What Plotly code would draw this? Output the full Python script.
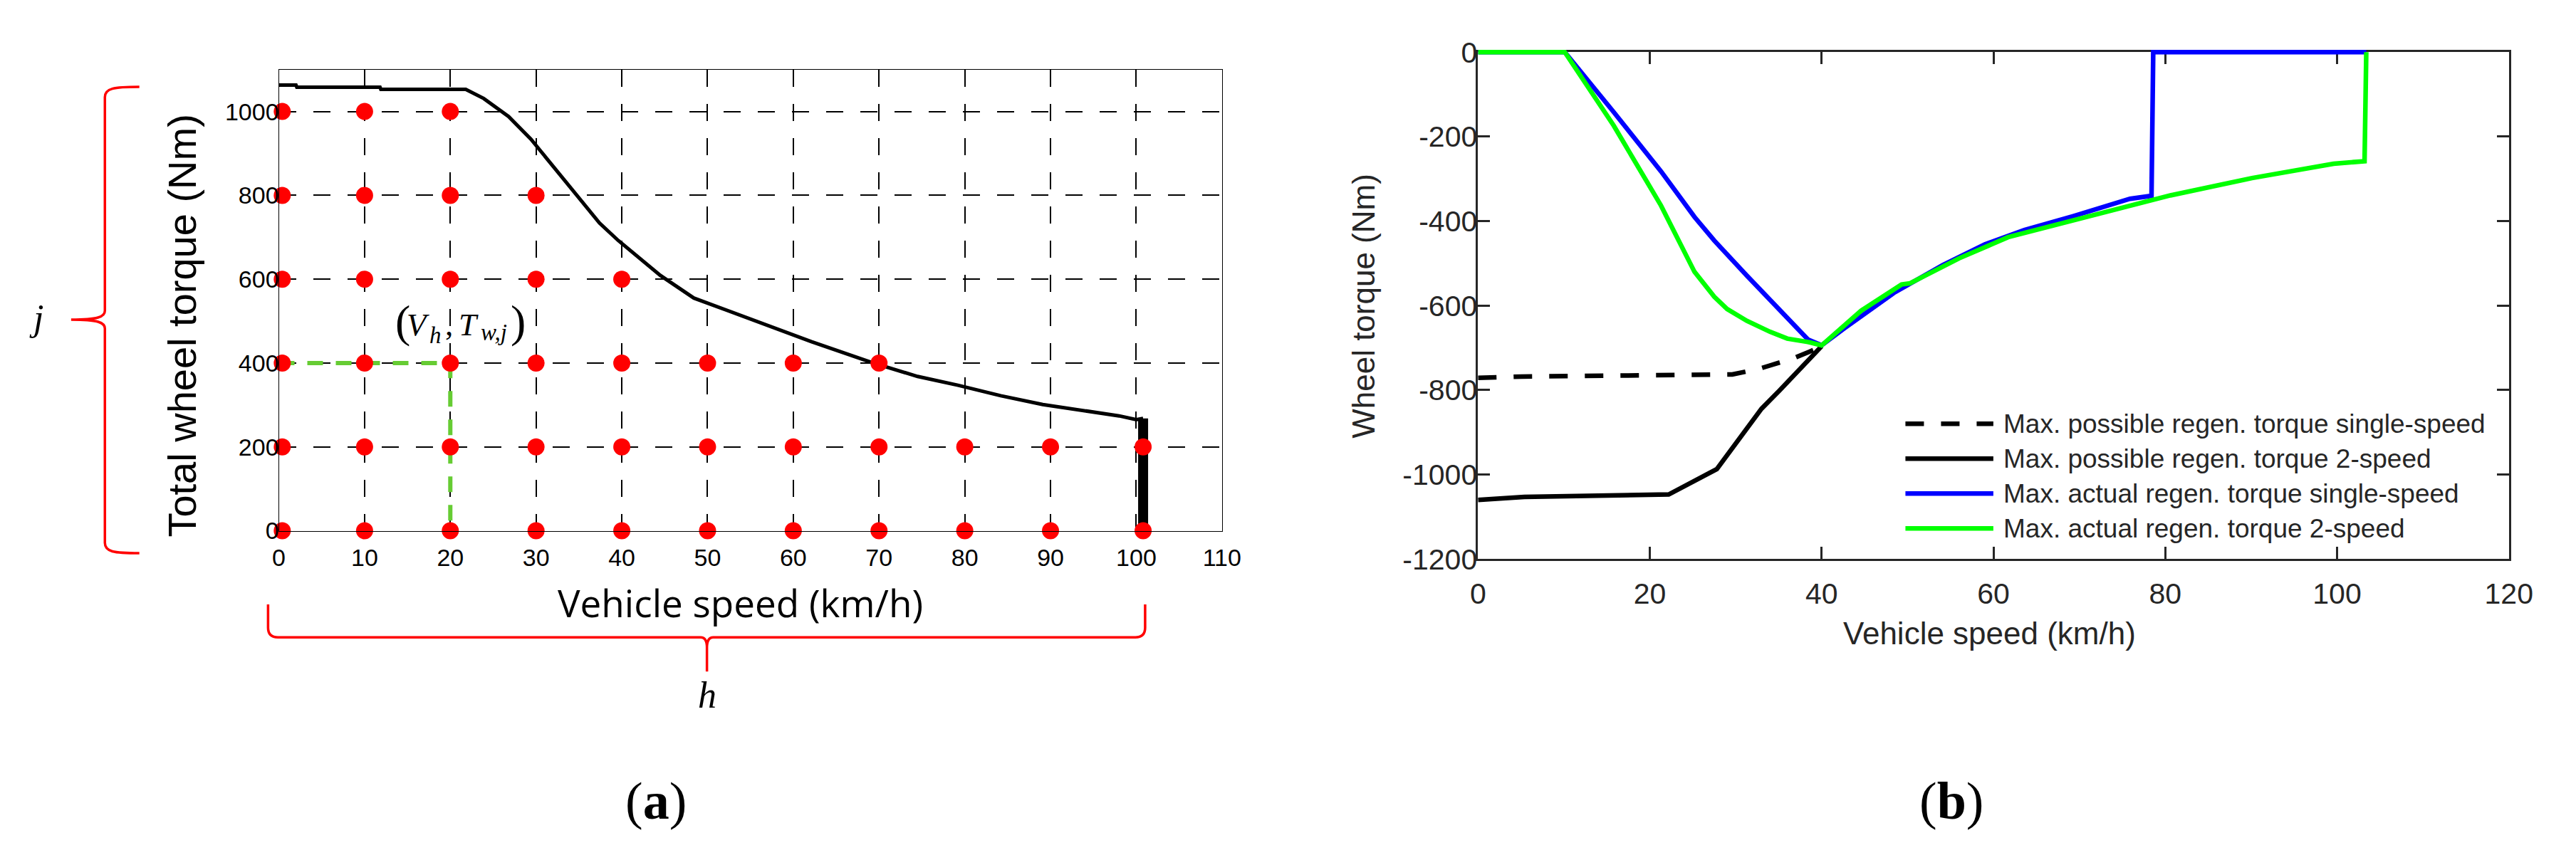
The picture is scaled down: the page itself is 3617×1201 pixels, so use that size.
import plotly.graph_objects as go

# ---------------- data ----------------
# (a) maximum total wheel torque vs vehicle speed
max_speed = [0, 2.0, 2.1, 11.8, 11.9, 21.8, 23.9, 26.8, 29.4, 32.1, 33.9, 37.4, 39.6,
             44.5, 48.4, 52.5, 56.8, 62.1, 69.2, 74.5, 79.2, 84.2, 89.1, 94.0, 98.0, 100.0, 100.8]
max_torque = [1063, 1063, 1058, 1058, 1053, 1053, 1031, 988, 934, 867, 821, 734, 692,
              609, 555, 524, 493, 451, 401, 368, 347, 322, 301, 285, 274, 265, 268]
cutoff_speed = [100.8, 100.8]
cutoff_torque = [268, 0]

grid_speeds = [0.4, 10, 20, 30, 40, 50, 60, 70, 80, 90, 100.8]
grid_torques = [0, 200, 400, 600, 800, 1000]
points_per_level = [11, 11, 8, 5, 4, 3]

highlight_speed = 20
highlight_torque = 400
a_xticks = [0, 10, 20, 30, 40, 50, 60, 70, 80, 90, 100, 110]
a_yticks = [0, 200, 400, 600, 800, 1000]

# (b) regenerative torque curves
poss_single_speed = [0, 5, 15, 25, 29.6, 32.8, 34.7, 36.7, 40]
poss_single_torque = [-771, -768, -766, -764, -763, -749, -738, -725, -697]
poss_two_speed = [0, 5.4, 22.2, 27.8, 33.0, 35.1, 40]
poss_two_torque = [-1060, -1053, -1047, -987, -844, -801, -696]
act_single_speed = [0, 10.1, 15.8, 21.3, 25.2, 27.5, 31.3, 35.9, 38.4, 40, 42.7, 48.4, 54.1,
                    59, 63.6, 69.3, 75.9, 78.4, 78.6, 103.4]
act_single_torque = [0, 0, -142, -282, -390, -446, -529, -628, -680, -694, -653, -570, -504,
                     -455, -421, -388, -347, -340, 0, 0]
act_two_speed = [0, 10.1, 15.8, 21.3, 25.2, 27.5, 29.0, 31.3, 34, 36, 38.4, 40, 44.6, 49.3,
                 50.3, 56, 61.7, 70.2, 80.6, 90.1, 99.6, 103.2, 103.4]
act_two_torque = [0, 0, -174, -363, -520, -579, -608, -636, -662, -678, -686, -694, -612, -550,
                  -547, -488, -438, -393, -339, -298, -264, -258, 0]
b_xticks = [0, 20, 40, 60, 80, 100, 120]
b_yticks = [-1200, -1000, -800, -600, -400, -200, 0]
b_yticktext = ["-1200", "-1000", "-800", "-600", "-400", "-200", "0"]
b_xrange = [0, 120]
b_yrange = [-1200, 0]

legend_labels = [
    "Max. possible regen. torque single-speed",
    "Max. possible regen. torque 2-speed",
    "Max. actual regen. torque single-speed",
    "Max. actual regen. torque 2-speed",
]

# ---------------- layout helpers ----------------
W, H = 3617, 1201


def px(x):
    return x / W


def py(y):
    return 1 - y / H


styles = [
    dict(color="black", width=6.5, dash="26px,24px"),
    dict(color="black", width=6.5, dash="solid"),
    dict(color="#0000ff", width=6.5, dash="solid"),
    dict(color="#00ff00", width=6.5, dash="solid"),
]

fig = go.Figure()

# ---- (a) ----
fig.add_trace(go.Scatter(x=max_speed, y=max_torque, mode="lines",
                         line=dict(color="black", width=5), xaxis="x", yaxis="y",
                         showlegend=False))
fig.add_trace(go.Scatter(x=cutoff_speed, y=cutoff_torque, mode="lines",
                         line=dict(color="black", width=14), xaxis="x", yaxis="y",
                         showlegend=False))
fig.add_trace(go.Scatter(x=[0, highlight_speed, highlight_speed],
                         y=[highlight_torque, highlight_torque, 0], mode="lines",
                         line=dict(color="#66cc33", width=6, dash="22px,18px"),
                         xaxis="x", yaxis="y", showlegend=False))
dot_x, dot_y = [], []
for t, n in zip(grid_torques, points_per_level):
    for s in grid_speeds[:n]:
        dot_x.append(s)
        dot_y.append(t)
fig.add_trace(go.Scatter(x=dot_x, y=dot_y, mode="markers",
                         marker=dict(color="#ff0000", size=24, line=dict(width=0)),
                         cliponaxis=False, xaxis="x", yaxis="y", showlegend=False))

# ---- (b) ----
# frame/ticks subplot (x2, y2); curves drawn on a same-scale overlay (x3, y3) whose
# area reaches a few px above the top frame, so lines along 0 Nm are not clipped.
fig.add_trace(go.Scatter(x=[], y=[], xaxis="x2", yaxis="y2", showlegend=False,
                         hoverinfo="skip"))
series_b = [
    (poss_single_speed, poss_single_torque),
    (poss_two_speed, poss_two_torque),
    (act_single_speed, act_single_torque),
    (act_two_speed, act_two_torque),
]
for (sx, sy), st, name in zip(series_b, styles, legend_labels):
    fig.add_trace(go.Scatter(x=sx, y=sy, mode="lines", name=name, line=st,
                             xaxis="x3", yaxis="y3", showlegend=False))

b_top_px, b_bot_px = 52.3, 792.7
extra_px = 8
units_per_px = (b_yrange[1] - b_yrange[0]) / (b_bot_px - b_top_px)

# ---------------- axes ----------------
a_tick_font = dict(family="Liberation Sans", size=34, color="black")
b_tick_font = dict(family="Liberation Sans", size=41, color="#262626")

fig.update_layout(
    width=W, height=H,
    margin=dict(l=0, r=0, t=0, b=0),
    paper_bgcolor="white", plot_bgcolor="rgba(0,0,0,0)",
    showlegend=False,
    xaxis=dict(domain=[px(385.3), px(1726.3)], range=[0, 110], tickvals=a_xticks,
               showgrid=True, gridcolor="black", gridwidth=1.6, griddash="24px,24px",
               showline=True, linecolor="black", linewidth=1.3, mirror=True,
               ticks="", ticklen=0, tickfont=a_tick_font, ticklabelstandoff=8,
               zeroline=False, anchor="y", fixedrange=True),
    yaxis=dict(domain=[py(751.3), py(77.7)], range=[0, 1100], tickvals=a_yticks,
               showgrid=True, gridcolor="black", gridwidth=1.6, griddash="24px,24px",
               showline=True, linecolor="black", linewidth=1.3, mirror=True,
               ticks="", ticklen=0, tickfont=a_tick_font, ticklabelstandoff=-8,
               zeroline=False, anchor="x", fixedrange=True),
    xaxis2=dict(domain=[px(2090.3), px(3556)], range=b_xrange, tickvals=b_xticks,
                showgrid=False, showline=True, linecolor="#262626", linewidth=2.7,
                mirror="ticks", ticks="inside", ticklen=17, tickwidth=2.7,
                tickcolor="#262626", tickfont=b_tick_font, ticklabelstandoff=11,
                zeroline=False, anchor="y2", fixedrange=True),
    yaxis2=dict(domain=[py(b_bot_px), py(b_top_px)], range=b_yrange, tickvals=b_yticks,
                ticktext=b_yticktext,
                showgrid=False, showline=True, linecolor="#262626", linewidth=2.7,
                mirror="ticks", ticks="inside", ticklen=17, tickwidth=2.7,
                tickcolor="#262626", tickfont=b_tick_font, ticklabelstandoff=-10,
                zeroline=False, anchor="x2", fixedrange=True),
    xaxis3=dict(domain=[px(2090.3), px(3556)], range=b_xrange, visible=False,
                anchor="y3", fixedrange=True),
    yaxis3=dict(domain=[py(b_bot_px), py(b_top_px - extra_px)],
                range=[b_yrange[0], b_yrange[1] + extra_px * units_per_px],
                visible=False, anchor="x3", fixedrange=True),
)

# ---------------- text ----------------
ann = []


def add_text(text, x, y, family, size, color="black", angle=0, xanchor="center",
             style="normal"):
    ann.append(dict(text=text, x=px(x), y=py(y), xref="paper", yref="paper",
                    showarrow=False, xanchor=xanchor, yanchor="middle", textangle=angle,
                    font=dict(family=family, size=size, color=color, style=style)))


add_text("Total wheel torque (Nm)", 248, 452, "Liberation Sans", 56, angle=-90)
add_text("Vehicle speed (km/h)", 1041, 856, "Open Sans", 53)
add_text("h", 994, 991, "Liberation Serif", 52, style="italic")
add_text("j", 40, 440, "Liberation Serif", 52, style="italic")
add_text("(<b>a</b>)", 921, 1146, "Liberation Serif", 74)
add_text("(<b>b</b>)", 2763, 1146, "Liberation Serif", 74)
add_text("Wheel torque (Nm)", 1928, 423, "Liberation Sans", 44, color="#262626", angle=-90)
add_text("Vehicle speed (km/h)", 2818, 901, "Liberation Sans", 44, color="#262626")

# grid point label (V_h, T_w,j) in (a), composed of pieces
add_text("(", 561, 446, "Liberation Serif", 64)
add_text("V", 583, 450, "Liberation Serif", 45, style="italic")
add_text("h", 608, 466, "Liberation Serif", 33, style="italic")
add_text(",", 627, 450, "Liberation Serif", 45)
add_text("T", 655, 450, "Liberation Serif", 45, style="italic")
add_text("w,j", 691, 462, "Liberation Serif", 33, style="italic")
add_text(")", 726, 446, "Liberation Serif", 64)

# manual legend for (b)
legend_rows = [595, 646, 697, 748]
shapes = []
for label, st, ry in zip(legend_labels, styles, legend_rows):
    shapes.append(dict(type="line", xref="paper", yref="paper",
                       x0=px(2698), x1=px(2823), y0=py(ry), y1=py(ry),
                       line=dict(color=st["color"], width=st["width"], dash=st["dash"])))
    add_text(label, 2835, ry, "Liberation Sans", 37, color="#262626", xanchor="left")

fig.update_layout(annotations=ann)

# ---------------- red braces ----------------


def path_px(cmds):
    out = []
    for c in cmds:
        if isinstance(c, str):
            out.append(c)
        else:
            out.append(f"{px(c[0]):.6f},{py(c[1]):.6f}")
    return " ".join(out)


left_brace = path_px([
    "M", (187, 103), "C", (150, 103), (138, 105), (138, 118),
    "L", (138, 430), "C", (138, 439), (128, 443), (90, 443),
    "C", (128, 443), (138, 447), (138, 456),
    "L", (138, 769), "C", (138, 782), (150, 784), (187, 784),
])
bottom_brace = path_px([
    "M", (370, 859), "L", (370, 893), "Q", (370, 907), (384, 907),
    "L", (985, 907), "Q", (994, 907), (994, 922), "L", (994, 957),
    "L", (994, 922), "Q", (994, 907), (1003, 907),
    "L", (1603, 907), "Q", (1617, 907), (1617, 893), "L", (1617, 859),
])
for p in (left_brace, bottom_brace):
    shapes.append(dict(type="path", xref="paper", yref="paper", path=p,
                       line=dict(color="#ff0000", width=3.5),
                       fillcolor="rgba(0,0,0,0)"))

fig.update_layout(shapes=shapes)

fig.write_html(
    "out.html",
    config={"displayModeBar": False},
    post_script="document.body.style.margin='0px';document.body.style.overflow='hidden';",
)
